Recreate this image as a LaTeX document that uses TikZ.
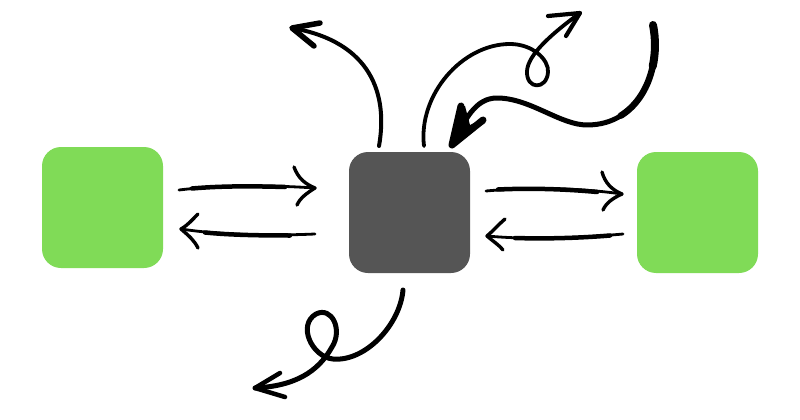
\documentclass[tikz,border=0pt]{standalone}
\definecolor{leaf}{HTML}{80DB57}
\definecolor{slate}{HTML}{555555}
\tikzset{
  box/.style={rounded corners=19pt,minimum width=121pt,minimum height=121pt,inner sep=0pt,draw=none,fill=#1},
  ink/.style={draw=black,line cap=round,line join=round,line width=#1},
  ink/.default=2.5pt
}
\begin{document}
\begin{tikzpicture}[x=1pt,y=-1pt]
\useasboundingbox (0,0) rectangle (800,420);
\node[box=leaf] (L) at (102.5,207.5) {};
\node[box=slate] (C) at (409.5,212.5) {};
\node[box=leaf] (R) at (697.5,212.5) {};
% up-left arrow
\coordinate (a0) at (379,146); \coordinate (a1) at (292,28);
\draw[ink=4pt] (a0) .. controls (388,95) and (372,42) .. (a1);
\draw[ink=5.5pt] (320,23) -- (a1) -- (314,46);
% loop arrow up-right
\coordinate (b0) at (424,146); \coordinate (b1) at (580,13);
\draw[ink=3.8pt] (b0) .. controls (418,95) and (462,44) .. (510,44)
  .. controls (533,44) and (549,60) .. (548,72)
  .. controls (547,90) and (526,90) .. (527,71)
  .. controls (528,55) and (550,35) .. (b1);
\draw[ink=4.2pt] (548,16) -- (b1) -- (566,36);
% thick arrow
\coordinate (c0) at (653,25); \coordinate (c1) at (452,145);
\draw[ink=5pt] (c0) .. controls (662,70) and (640,125) .. (587,125)
  .. controls (560,125) and (530,98) .. (497,98)
  .. controls (475,98) and (465,120) .. (c1);
\draw[ink=6.5pt] (c0) .. controls (659.75,58.75) and (649.06,98.1) .. (620.7,115.7);
\draw[ink=8pt] (c0) .. controls (655.7,38.5) and (655.6,52.9) .. (652.7,66.4);
\draw[ink=7pt] (461,106) -- (c1) -- (483,120);
\fill (c1) -- (459,105) -- (465,106) -- (470,125) -- (485,118) -- (485,123) -- cycle;
% loop arrow bottom
\coordinate (d0) at (403,290); \coordinate (d1) at (255,388);
\draw[ink=5pt] (d0) .. controls (400,325) and (365,362) .. (333,359)
  .. controls (312,357) and (297,325) .. (316,314)
  .. controls (332,306) and (343,330) .. (332,347)
  .. controls (318,372) and (295,386) .. (d1);
\draw[ink=4.5pt] (280,373) -- (d1) -- (285,397);
% left pair
\coordinate (e0) at (179,190); \coordinate (e1) at (315,188);
\draw[ink=2.8pt] (e0) .. controls (220,185) and (270,185) .. (e1);
\draw[ink=4.5pt] (192,188.5) .. controls (220,186) and (250,186) .. (285,187);
\draw[ink=3.4pt] (294,167) .. controls (298,178) and (305,184) .. (e1) .. controls (307,193) and (300,198) .. (297,205);
\coordinate (f0) at (315,234); \coordinate (f1) at (181,229);
\draw[ink=2.8pt] (f0) .. controls (270,236) and (220,235) .. (f1);
\draw[ink=4.5pt] (290,235.5) .. controls (260,235.5) and (230,235) .. (205,232.5);
\draw[ink=3.4pt] (198,214) .. controls (192,220) and (188,225) .. (f1) .. controls (189,236) and (194,240) .. (198,248);
% right pair
\coordinate (g0) at (486,191); \coordinate (g1) at (622,194);
\draw[ink=2.8pt] (g0) .. controls (530,187) and (580,188) .. (g1);
\draw[ink=4.5pt] (498,189.5) .. controls (530,188) and (565,189) .. (597,192);
\draw[ink=3.4pt] (602,172) .. controls (605,183) and (612,190) .. (g1) .. controls (613,198) and (606,203) .. (603,210);
\coordinate (h0) at (623,234); \coordinate (h1) at (487,236);
\draw[ink=2.8pt] (h0) .. controls (580,238) and (530,240) .. (h1);
\draw[ink=4.5pt] (610,235.5) .. controls (580,238) and (545,239) .. (515,238);
\draw[ink=3.4pt] (505,219) .. controls (498,225) and (493,231) .. (h1) .. controls (494,242) and (499,245) .. (503,250);
\end{tikzpicture}
\end{document}
